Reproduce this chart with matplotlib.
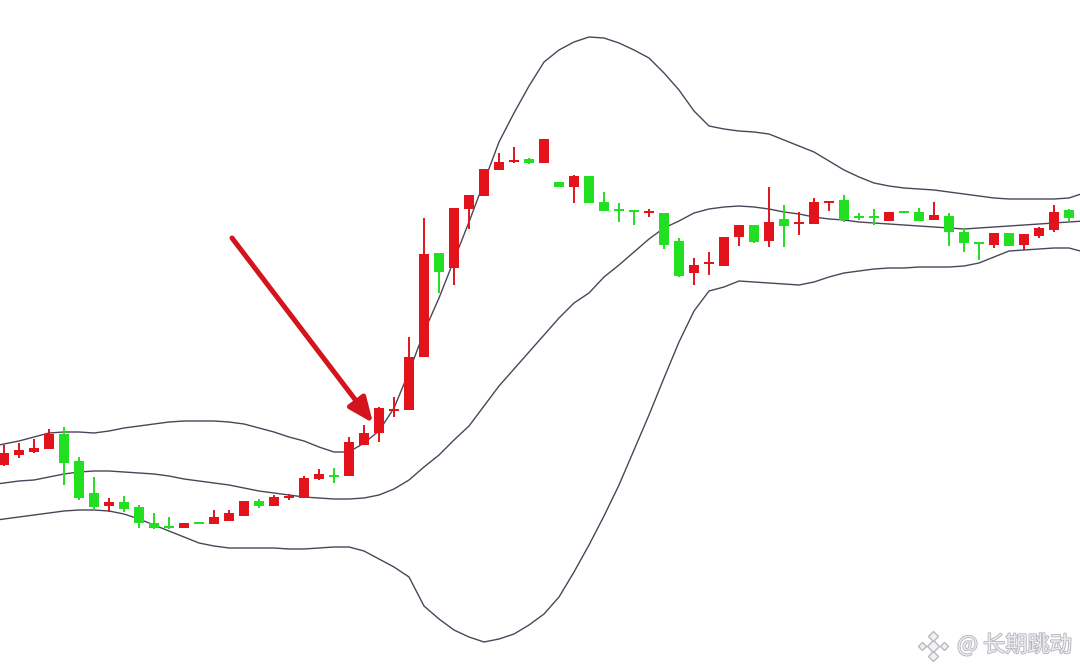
import numpy as np
import matplotlib.pyplot as plt
import matplotlib.patheffects as pe

# K线数据 (72根)
opens = [20.7, 21.7, 22.0, 22.3, 23.8, 21.1, 17.9, 16.6, 17.0, 16.5,
         14.9, 14.5, 14.4, 14.9, 14.8, 15.1, 15.6, 17.1, 16.6, 17.4,
         17.4, 19.3, 19.7, 19.6, 22.7, 23.9, 26.1, 26.2, 31.5, 41.9,
         40.4, 46.3, 47.6, 50.2, 51.0, 51.3, 50.9, 49.0, 48.5, 49.6,
         47.0, 46.3, 46.2, 45.9, 45.9, 43.1, 39.9, 40.8, 40.6, 43.5,
         44.7, 43.1, 45.3, 44.8, 44.8, 46.9, 47.2, 45.6, 45.6, 45.1,
         46.0, 46.0, 45.2, 45.6, 44.0, 42.9, 42.7, 43.9, 42.7, 43.6,
         44.2, 46.2]
highs = [22.7, 22.9, 23.3, 24.3, 24.5, 21.5, 19.5, 17.4, 17.6, 16.7,
         15.9, 15.5, 14.9, 14.9, 16.2, 16.2, 17.1, 17.3, 17.7, 17.8,
         19.6, 20.3, 20.4, 23.5, 24.7, 26.5, 27.5, 33.5, 45.4, 41.9,
         46.4, 47.7, 50.3, 51.9, 52.5, 51.4, 53.3, 49.0, 49.7, 49.6,
         48.0, 46.9, 46.2, 46.3, 45.9, 43.4, 41.4, 42.0, 43.5, 44.7,
         44.7, 48.5, 46.7, 46.0, 47.4, 47.1, 47.7, 45.9, 46.3, 46.0,
         46.0, 46.4, 47.0, 45.9, 44.4, 42.9, 43.9, 43.9, 43.8, 44.5,
         46.7, 46.3]
lows = [20.6, 21.4, 21.9, 22.3, 18.7, 17.2, 16.2, 16.0, 16.0, 14.4,
        14.3, 14.3, 14.4, 14.8, 14.8, 15.1, 15.6, 16.4, 16.6, 17.2,
        17.4, 19.2, 18.9, 19.6, 22.7, 23.0, 25.5, 26.2, 31.5, 37.9,
        38.7, 44.3, 47.6, 50.2, 50.9, 50.8, 50.9, 48.5, 46.9, 46.9,
        46.1, 45.0, 44.7, 45.5, 42.3, 39.5, 38.7, 39.7, 40.6, 42.6,
        42.9, 42.5, 42.5, 43.7, 44.8, 46.1, 45.0, 45.2, 44.7, 45.1,
        45.9, 45.1, 45.2, 42.6, 42.0, 41.2, 42.4, 42.6, 42.2, 43.4,
        44.0, 45.0]
closes = [21.9, 22.2, 22.4, 23.8, 20.9, 17.4, 16.5, 17.0, 16.3, 14.9,
          14.4, 14.4, 14.9, 14.8, 15.5, 15.9, 17.1, 16.6, 17.5, 17.6,
          19.4, 19.8, 19.5, 23.0, 23.9, 26.4, 26.3, 31.5, 41.8, 40.0,
          46.4, 47.7, 50.3, 51.0, 51.2, 50.9, 53.3, 48.5, 49.6, 46.9,
          46.1, 46.1, 46.0, 46.1, 42.7, 39.6, 40.7, 41.0, 43.5, 44.7,
          43.0, 45.0, 44.6, 45.0, 47.0, 47.1, 45.2, 45.4, 45.4, 46.0,
          45.9, 45.1, 45.7, 44.0, 42.9, 42.8, 43.9, 42.6, 43.8, 44.4,
          46.0, 45.4]

# 布林带 (从 -1 到 72, 两端各多一个点)
band_idx = list(range(-1, 73))
upper = [22.5, 22.8, 23.1, 23.5, 23.9, 24.0, 24.0, 23.9, 24.1, 24.4, 24.6,
         24.8, 25.0, 25.1, 25.1, 25.1, 25.0, 24.8, 24.4, 24.0, 23.5,
         23.1, 22.5, 22.0, 22.0, 22.9, 24.1, 26.4, 30.0, 34.0, 37.4,
         41.2, 45.0, 49.0, 53.0, 55.9, 58.6, 61.0, 62.2, 63.0, 63.5,
         63.4, 62.9, 62.2, 61.4, 59.9, 58.2, 56.1, 54.6, 54.3, 54.1,
         54.0, 53.8, 53.2, 52.6, 52.0, 51.1, 50.2, 49.5, 48.9, 48.6,
         48.4, 48.3, 48.2, 48.0, 47.8, 47.6, 47.4, 47.3, 47.3, 47.3,
         47.3, 47.4, 47.9]
middle = [18.7, 18.9, 19.1, 19.2, 19.5, 19.8, 20.0, 20.1, 20.1, 20.0, 19.9,
          19.8, 19.6, 19.3, 19.1, 18.9, 18.7, 18.4, 18.1, 17.9, 17.7,
          17.5, 17.4, 17.3, 17.3, 17.4, 17.7, 18.3, 19.2, 20.5, 21.7,
          23.2, 24.6, 26.6, 28.6, 30.3, 32.0, 33.7, 35.4, 36.9, 37.9,
          39.5, 40.7, 42.0, 43.3, 44.4, 45.1, 45.9, 46.3, 46.5, 46.6,
          46.5, 46.3, 46.0, 45.8, 45.5, 45.3, 45.2, 45.0, 44.9, 44.8,
          44.7, 44.6, 44.5, 44.4, 44.3, 44.4, 44.5, 44.6, 44.7, 44.8,
          44.9, 45.0, 45.1]
lower = [15.1, 15.3, 15.5, 15.7, 15.9, 16.1, 16.2, 16.2, 16.1, 15.8, 15.3,
         14.7, 14.1, 13.5, 12.9, 12.6, 12.4, 12.4, 12.4, 12.4, 12.3,
         12.3, 12.4, 12.5, 12.5, 12.1, 11.3, 10.5, 9.5, 6.6, 5.3,
         4.2, 3.5, 3.0, 3.3, 3.8, 4.7, 5.8, 7.5, 10.0, 12.7,
         15.6, 18.7, 22.2, 25.7, 29.4, 33.0, 36.1, 38.1, 38.5, 39.1,
         39.0, 38.9, 38.8, 38.7, 39.0, 39.5, 39.9, 40.1, 40.3, 40.4,
         40.4, 40.5, 40.5, 40.5, 40.6, 40.9, 41.5, 42.1, 42.2, 42.3,
         42.4, 42.4, 42.0]

# 箭头: 起点 -> 指向的K线
arrow_start = (15.2, 43.4)
arrow_end = (24.6, 24.9)

watermark = '@ 长期跳动'

UP = '#e3121b'
DOWN = '#22df22'
BAND = '#4a4658'

fig = plt.figure(figsize=(10.8, 6.72), dpi=100)
ax = fig.add_axes([0, 0, 1, 1])
ax.set_xlim(-0.267, 71.733)
ax.set_ylim(0, 67.2)
ax.axis('off')

for b in (upper, middle, lower):
    ax.plot(band_idx, b, color=BAND, lw=1.0, zorder=1)

x = np.arange(len(opens))
o = np.array(opens)
c = np.array(closes)
cols = [UP if c[i] > o[i] else DOWN for i in range(len(x))]
ax.vlines(x, lows, highs, colors=cols, lw=1.4, zorder=2)
h = np.maximum(np.abs(c - o), 0.22)
ax.bar(x, h, bottom=np.minimum(o, c), width=0.64, color=cols, zorder=3)

ax.annotate('', xy=arrow_end, xytext=arrow_start,
            arrowprops=dict(arrowstyle='-|>,head_length=0.75,head_width=0.32',
                            lw=3.6, color='#d4141c', mutation_scale=20,
                            shrinkA=0, shrinkB=0), zorder=4)

# 水印
ax.text(0.9926, 0.040, watermark, transform=ax.transAxes, ha='right', va='center',
        fontsize=16, color='#ececf0', family=['Noto Sans CJK SC', 'DejaVu Sans'],
        path_effects=[pe.withStroke(linewidth=1.2, foreground='#b4b4bc')])
logo_x = [0.8639, 0.8639, 0.8639, 0.8537, 0.8741]
logo_y = [0.0387, 0.0536, 0.0238, 0.0387, 0.0387]
logo_s = [6, 5, 5, 4, 4]
for lx, ly, ls in zip(logo_x, logo_y, logo_s):
    ax.plot(lx, ly, marker='D', ms=ls, mfc='#f2f2f4', mec='#b8b8c0', mew=1.0,
            transform=ax.transAxes)

plt.savefig('out.png', dpi=100)
